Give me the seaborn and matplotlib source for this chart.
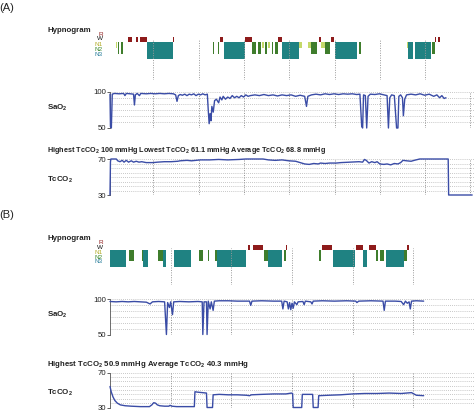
import numpy as np
import pandas as pd
import matplotlib
matplotlib.use("Agg")
import matplotlib.pyplot as plt
import seaborn as sns

# =========================
# DATA  (time = hours since start of recording)
# =========================
stage_names = ["R", "W", "N1", "N2", "N3"]

# --- Patient A ---
hyp_a_start = [0.13, 0.17, 0.24, 0.40, 0.57, 0.66, 0.81, 1.40, 2.27, 2.38, 2.43, 2.52, 2.98,
               3.14, 3.27, 3.35, 3.43, 3.48, 3.57, 3.64, 3.71, 3.79, 4.17, 4.38, 4.44, 4.62,
               4.67, 4.75, 4.88, 4.97, 5.08, 5.50, 6.55, 6.58, 6.73, 7.11, 7.17, 7.25]
hyp_a_end = [0.15, 0.20, 0.28, 0.49, 0.62, 0.81, 1.40, 1.41, 2.29, 2.41, 2.50, 2.98, 3.13,
             3.22, 3.33, 3.41, 3.47, 3.53, 3.60, 3.70, 3.79, 4.17, 4.23, 4.44, 4.58, 4.67,
             4.75, 4.86, 4.95, 5.08, 5.45, 5.54, 6.58, 6.70, 7.10, 7.17, 7.21, 7.28]
hyp_a_stage = ["N1", "N2", "N2", "R", "R", "R", "N3", "R", "N2", "N2", "R", "N3", "R",
               "N2", "N2", "N1", "N2", "N1", "N2", "N2", "R", "N3", "N1", "N1", "N2", "R",
               "N1", "N2", "R", "N3", "N3", "N2", "N1", "N3", "N3", "N2", "R", "R"]

sao2_a_t = [0.00, 0.01, 0.03, 0.05, 0.10, 0.20, 0.30, 0.33, 0.36, 0.45, 0.52, 0.54, 0.56, 0.60,
            0.65, 0.68, 0.80, 0.90, 1.00, 1.10, 1.20, 1.30, 1.40, 1.45, 1.48, 1.51, 1.55, 1.60,
            1.65, 1.70, 1.75, 1.80, 1.85, 1.90, 1.95, 2.00, 2.05, 2.10, 2.15, 2.17, 2.19, 2.21,
            2.23, 2.25, 2.28, 2.31, 2.35, 2.40, 2.43, 2.47, 2.50, 2.55, 2.60, 2.65, 2.70, 2.75,
            2.80, 2.85, 2.90, 2.95, 3.00, 3.05, 3.10, 3.20, 3.30, 3.40, 3.50, 3.60, 3.70, 3.80,
            3.90, 4.00, 4.10, 4.20, 4.30, 4.34, 4.37, 4.45, 4.55, 4.65, 4.75, 4.85, 4.95, 5.05,
            5.15, 5.25, 5.35, 5.45, 5.52, 5.56, 5.58, 5.60, 5.64, 5.67, 5.70, 5.75, 5.85, 5.95,
            6.05, 6.12, 6.15, 6.18, 6.22, 6.28, 6.33, 6.36, 6.38, 6.42, 6.46, 6.48, 6.51, 6.55,
            6.65, 6.75, 6.85, 6.95, 7.05, 7.15, 7.22, 7.28, 7.33, 7.38, 7.42]
sao2_a_v = [97, 52, 50, 97, 98, 97.5, 98, 95, 98, 97.5, 97, 82, 96, 98,
            95, 98, 97.5, 98, 97.5, 98, 97.5, 98, 97.5, 96, 87, 95, 96.5, 95.5,
            97, 95, 97, 96, 97.5, 95, 97, 96, 97.5, 96, 97, 75, 56, 70,
            60, 80, 72, 88, 90, 85, 93, 89, 94, 90, 93, 91, 95, 92,
            94, 92, 95, 93, 96, 94, 95, 96, 95, 96.5, 95, 96, 94.5, 96,
            95, 96, 94, 95.5, 94, 80, 94, 96, 97, 96, 97.5, 96.5, 97.5, 96.5,
            97.5, 97, 97.5, 96.5, 97, 52, 50, 96, 95, 50, 94, 97, 96.5, 97.5,
            96, 95, 50, 92, 96, 95, 50, 50, 94, 96, 92, 67, 90, 96,
            97, 96, 97.5, 95.5, 97, 94, 96, 92, 95, 91, 92]

tcco2_a_t = [0.00, 0.01, 0.02, 0.14, 0.17, 0.22, 0.27, 0.31, 0.36, 0.41, 0.47, 0.52, 0.58, 0.64,
             0.70, 0.80, 0.95, 1.05, 1.20, 1.35, 1.50, 1.55, 1.70, 1.80, 2.00, 2.20, 2.40, 2.60,
             2.85, 3.00, 3.38, 3.50, 3.65, 3.80, 3.95, 4.10, 4.20, 4.30, 4.40, 4.50, 4.60, 4.65,
             4.75, 4.85, 5.00, 5.10, 5.30, 5.50, 5.58, 5.62, 5.66, 5.72, 5.78, 5.85, 5.90, 5.96,
             6.05, 6.12, 6.20, 6.28, 6.36, 6.42, 6.47, 6.55, 6.65, 6.72, 6.84, 7.47, 7.48, 8.00]
tcco2_a_v = [30, 67, 70, 70, 68, 67, 68.5, 66.5, 68.5, 66.5, 68, 66.5, 67.5, 66.5,
             67, 66, 66, 66.5, 67, 67, 67.5, 68, 68.5, 68, 69, 69, 69.5, 69,
             69.5, 70, 70, 69, 68.5, 69, 68, 67.5, 66, 64.5, 64, 65, 64.5, 65.5,
             65, 65.5, 65.5, 66, 66.5, 67, 66.5, 69.5, 68.5, 65.5, 67, 66, 67, 64.5,
             64, 64.5, 63.5, 65, 64.5, 66, 68.5, 68, 67.5, 68.5, 70, 70, 30, 30]

hours_a = [0.96, 1.96, 2.96, 3.96, 4.96, 5.96, 6.96, 7.96]
title_a = "Highest TcCO$_\\mathbf{2}$ 100 mmHg Lowest TcCO$_\\mathbf{2}$ 61.1 mmHg Average TcCO$_\\mathbf{2}$ 68.8 mmHg"

# --- Patient B ---
hyp_b_start = [0.00, 0.32, 0.52, 0.54, 0.79, 0.88, 1.05, 1.47, 1.61, 1.73, 1.76, 2.27, 2.36, 2.54,
               2.61, 2.86, 2.90, 3.45, 3.49, 3.67, 4.06, 4.17, 4.27, 4.39, 4.45, 4.55, 4.85, 4.90]
hyp_b_end = [0.27, 0.40, 0.54, 0.63, 0.88, 0.93, 1.34, 1.54, 1.63, 1.76, 2.25, 2.31, 2.53, 2.61,
             2.83, 2.90, 2.92, 3.47, 3.66, 4.04, 4.17, 4.23, 4.39, 4.42, 4.51, 4.84, 4.89, 4.93]
hyp_b_stage = ["N3", "N2", "N2", "N3", "N2", "N3", "N3", "N2", "N2", "N2", "N3", "R", "R", "N2",
               "N3", "N2", "R", "N2", "R", "N3", "R", "N3", "R", "N2", "N2", "N3", "N2", "R"]

sao2_b_t = [0.00, 0.10, 0.20, 0.30, 0.40, 0.50, 0.60, 0.66, 0.70, 0.80, 0.90, 0.93, 0.95, 0.98,
            1.00, 1.03, 1.05, 1.15, 1.30, 1.45, 1.52, 1.53, 1.55, 1.59, 1.60, 1.62, 1.65, 1.67,
            1.70, 1.72, 1.80, 1.95, 2.10, 2.30, 2.32, 2.34, 2.50, 2.70, 2.83, 2.85, 2.87, 2.92,
            2.94, 2.96, 2.98, 3.00, 3.02, 3.04, 3.08, 3.10, 3.18, 3.20, 3.22, 3.31, 3.33, 3.35,
            3.50, 3.70, 3.90, 4.05, 4.07, 4.10, 4.30, 4.50, 4.52, 4.54, 4.70, 4.80, 4.84, 4.87,
            4.90, 4.93, 4.95, 4.97, 5.05, 5.17]
sao2_b_v = [96.5, 96, 96.5, 96, 96.5, 96, 95.5, 93, 96, 96.5, 96, 50, 95, 88,
            96, 78, 96, 96.5, 96, 96.5, 96, 50, 96, 96, 50, 97, 86, 96,
            84, 97, 97.5, 97.5, 97, 97, 91, 97, 97.5, 97, 97, 86, 97, 96,
            86, 95, 85, 94, 87, 96, 92, 96, 96.5, 92, 97, 96, 93, 97,
            97.5, 97, 97.5, 97, 95, 97, 97.5, 97, 84, 97, 97, 96.5, 92, 97,
            94, 96, 86, 97, 97.5, 97]

tcco2_b_t = [0.00, 0.02, 0.05, 0.08, 0.12, 0.17, 0.25, 0.35, 0.50, 0.65, 0.69, 0.72, 0.75, 0.78,
             0.82, 0.90, 0.97, 0.99, 1.02, 1.10, 1.25, 1.39, 1.40, 1.45, 1.52, 1.59, 1.60, 1.69,
             1.70, 1.80, 1.95, 2.10, 2.25, 2.30, 2.33, 2.50, 2.70, 2.90, 2.99, 3.01, 3.02, 3.16,
             3.17, 3.25, 3.34, 3.35, 3.43, 3.44, 3.60, 3.80, 4.00, 4.20, 4.40, 4.60, 4.80, 4.97,
             5.05, 5.17]
tcco2_b_v = [54, 48, 42, 38, 35, 33, 32, 31.5, 31, 31, 33, 35.5, 35, 33,
             32, 31.5, 31.5, 32.5, 31.5, 31, 31, 31, 48, 47.5, 47, 46.5, 30, 30,
             44.5, 45, 44.5, 44.5, 44, 43.5, 44.5, 45, 45.5, 45.5, 46.5, 46, 30, 30,
             45, 45, 45, 30, 30, 43.5, 44, 44.5, 45.5, 46, 46, 46.5, 46, 47,
             44, 43.5]

hours_b = [1, 2, 3, 4, 5]
title_b = "Highest TcCO$_\\mathbf{2}$ 50.9 mmHg Average TcCO$_\\mathbf{2}$ 40.3 mmHg"

# =========================
# STYLE
# =========================
sns.set_style("white")
plt.rcParams['font.family'] = ['Liberation Sans', 'DejaVu Sans']
plt.rcParams['mathtext.fontset'] = 'custom'
plt.rcParams['mathtext.rm'] = 'Liberation Sans'
plt.rcParams['mathtext.bf'] = 'Liberation Sans:bold'

BLUE = "#3a4ca6"
TXT = "#222222"
stage_depth = {"R": 1.0, "N1": -1.0, "N2": -2.0, "N3": -3.0}
stage_color = {"R": "#8e1b1b", "N1": "#c5d96a", "N2": "#3f7d2c", "N3": "#1f8282"}
label_color = ["#8e1b1b", "#111111", "#b3ad2a", "#3f8a30", "#2b7f9c"]
label_pos = [1.4, 0.6, -0.4, -1.25, -2.1]

W, H = 474, 412
fig = plt.figure(figsize=(W / 100, H / 100), dpi=100)


def add_ax(x0, y_top, x1, y_bot):
    return fig.add_axes([x0 / W, 1 - y_bot / H, (x1 - x0) / W, (y_bot - y_top) / H])


def ftext(x, y, s, **kw):
    fig.text(x / W, 1 - y / H, s, va="center", color=TXT, **kw)


def draw_hyp(ax, starts, ends, stages, hours, xmax, ytop, ybot):
    df = pd.DataFrame({"start": starts, "end": ends, "stage": stages})
    df["width"] = df["end"] - df["start"]
    for st, g in df.groupby("stage"):
        ax.bar(g["start"], stage_depth[st], width=g["width"], align="edge",
               color=stage_color[st], linewidth=0, zorder=2)
    ax.vlines(hours, ybot, 0.4, colors="#9a9a9a", linestyles=(0, (1, 1.5)),
              linewidth=0.7, zorder=3)
    for name, pos, col in zip(stage_names, label_pos, label_color):
        ax.text(-0.02, pos, name, transform=ax.get_yaxis_transform(), ha="right",
                va="center", fontsize=4.6, color=col)
    ax.set_xlim(0, xmax)
    ax.set_ylim(ybot, ytop)
    ax.axis("off")


def draw_trace(ax, t, v, lo, hi, nrows, hours, xmax):
    ax.hlines(np.linspace(lo, hi, nrows + 1), 0, xmax, colors="#b5b5b5",
              linestyles=(0, (1, 1.5)), linewidth=0.6, zorder=1)
    ax.vlines(hours, lo, hi, colors="#8f8f8f", linestyles=(0, (1, 1.5)),
              linewidth=0.7, zorder=1)
    sns.lineplot(x=t, y=v, ax=ax, color=BLUE, linewidth=1.0, sort=False,
                 estimator=None, zorder=3, clip_on=False)
    ax.set_xlim(0, xmax)
    ax.set_ylim(lo, hi)
    ax.set_xticks([])
    ax.set_yticks([lo, hi])
    ax.tick_params(axis="y", labelsize=5.6, length=2, width=0.6, pad=1,
                   colors="#444444", labelcolor=TXT, left=True)
    for s in ["top", "right", "bottom"]:
        ax.spines[s].set_visible(False)
    ax.spines["left"].set_color("#555555")
    ax.spines["left"].set_linewidth(0.6)
    ax.set_xlabel("")
    ax.set_ylabel("")


# --- Panel A ---
ax = add_ax(110, 33, 474, 80)
draw_hyp(ax, hyp_a_start, hyp_a_end, hyp_a_stage, hours_a[:7], 8.04, 1.66, -6.73)
ax = add_ax(110, 92, 474, 128)
draw_trace(ax, sao2_a_t, sao2_a_v, 50, 100, 6, hours_a, 8.04)
ax = add_ax(110, 159, 474, 195)
draw_trace(ax, tcco2_a_t, tcco2_a_v, 30, 70, 8, hours_a, 8.04)

ftext(-1, 8, "(A)", fontsize=8)
ftext(47, 30, "Hypnogram", fontsize=5.7, fontweight="bold")
ftext(47, 108, "SaO$_\\mathbf{2}$", fontsize=5.7, fontweight="bold")
ftext(47, 150, title_a, fontsize=5.25, fontweight="bold")
ftext(47, 180, "TcCO$_\\mathbf{2}$", fontsize=5.7, fontweight="bold")

# --- Panel B ---
ax = add_ax(110, 240, 474, 285)
draw_hyp(ax, hyp_b_start, hyp_b_end, hyp_b_stage, hours_b, 6.0, 1.9, -6.4)
ax = add_ax(110, 299, 474, 334.5)
draw_trace(ax, sao2_b_t, sao2_b_v, 50, 100, 6, hours_b, 6.0)
ax = add_ax(110, 372.5, 474, 407.5)
draw_trace(ax, tcco2_b_t, tcco2_b_v, 30, 70, 8, hours_b, 6.0)

ftext(-1, 215, "(B)", fontsize=8)
ftext(47, 238, "Hypnogram", fontsize=5.7, fontweight="bold")
ftext(47, 315, "SaO$_\\mathbf{2}$", fontsize=5.7, fontweight="bold")
ftext(47, 364, title_b, fontsize=5.6, fontweight="bold")
ftext(47, 393, "TcCO$_\\mathbf{2}$", fontsize=5.7, fontweight="bold")

fig.savefig("out.png", dpi=100, facecolor="white")
